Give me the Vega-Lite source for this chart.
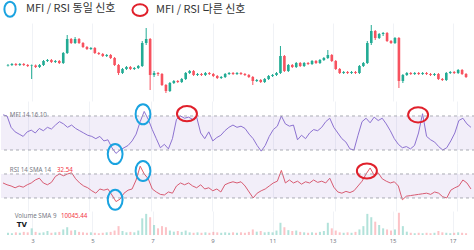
{
"$schema":"https://vega.github.io/schema/vega-lite/v6.json",
"padding":0,
"background":"white",
"spacing":0,
"bounds":"flush",
"config":{"view":{"stroke":null},"font":"Noto Sans","concat":{"spacing":0}},
"datasets":{
"k":[
{"i":0,"o":37.5,"c":38,"h":39,"l":36.5,"m":82,"r":55,"v":10},
{"i":1,"o":38,"c":39,"h":40,"l":37,"m":80,"r":52,"v":8},
{"i":2,"o":39,"c":38,"h":40,"l":37,"m":60,"r":50,"v":12},
{"i":3,"o":38,"c":39,"h":40,"l":37,"m":52,"r":47,"v":10},
{"i":4,"o":39,"c":38,"h":40,"l":37,"m":48,"r":50,"v":14},
{"i":5,"o":38,"c":37,"h":39,"l":36,"m":44,"r":48,"v":12},
{"i":6,"o":37,"c":37.5,"h":38.5,"l":24,"m":52,"r":52,"v":30},
{"i":7,"o":37.5,"c":36,"h":38.5,"l":35,"m":55,"r":55,"v":14},
{"i":8,"o":36,"c":38,"h":39,"l":35,"m":50,"r":60,"v":10},
{"i":9,"o":38,"c":42,"h":43,"l":37,"m":58,"r":63,"v":12},
{"i":10,"o":42,"c":43,"h":44,"l":41,"m":54,"r":55,"v":18},
{"i":11,"o":43,"c":41,"h":44,"l":40,"m":60,"r":52,"v":10},
{"i":12,"o":41,"c":42,"h":43,"l":40,"m":57,"r":56,"v":12},
{"i":13,"o":42,"c":40,"h":43,"l":39,"m":64,"r":66,"v":14},
{"i":14,"o":40,"c":50,"h":51,"l":39,"m":70,"r":70,"v":25},
{"i":15,"o":50,"c":64,"h":68,"l":49,"m":66,"r":67,"v":35},
{"i":16,"o":64,"c":60,"h":65,"l":59,"m":60,"r":70,"v":20},
{"i":17,"o":60,"c":64,"h":66,"l":59,"m":64,"r":72,"v":22},
{"i":18,"o":64,"c":60,"h":65,"l":59,"m":58,"r":62,"v":14},
{"i":19,"o":60,"c":56,"h":61,"l":55,"m":54,"r":55,"v":12},
{"i":20,"o":56,"c":54,"h":57,"l":53,"m":50,"r":50,"v":10},
{"i":21,"o":54,"c":55,"h":56,"l":53,"m":46,"r":47,"v":12},
{"i":22,"o":55,"c":50,"h":56,"l":49,"m":44,"r":42,"v":10},
{"i":23,"o":50,"c":49,"h":51,"l":48,"m":40,"r":38,"v":8},
{"i":24,"o":49,"c":47,"h":50,"l":46,"m":44,"r":45,"v":10},
{"i":25,"o":47,"c":48,"h":49,"l":46,"m":36,"r":43,"v":12},
{"i":26,"o":48,"c":45,"h":49,"l":44,"m":38,"r":45,"v":14},
{"i":27,"o":45,"c":38,"h":46,"l":37,"m":24,"r":35,"v":20},
{"i":28,"o":38,"c":30,"h":39,"l":28,"m":14,"r":24,"v":40},
{"i":29,"o":30,"c":34,"h":35,"l":29,"m":20,"r":28,"v":18},
{"i":30,"o":34,"c":36,"h":37,"l":33,"m":24,"r":38,"v":12},
{"i":31,"o":36,"c":34,"h":37,"l":33,"m":28,"r":43,"v":14},
{"i":32,"o":34,"c":35,"h":36,"l":33,"m":36,"r":45,"v":12},
{"i":33,"o":35,"c":37,"h":38,"l":34,"m":48,"r":60,"v":20},
{"i":34,"o":37,"c":60,"h":62,"l":36,"m":70,"r":83,"v":75},
{"i":35,"o":60,"c":64,"h":75,"l":58,"m":88,"r":70,"v":95},
{"i":36,"o":64,"c":28,"h":65,"l":13,"m":74,"r":62,"v":80},
{"i":37,"o":28,"c":30,"h":32,"l":26,"m":56,"r":45,"v":45},
{"i":38,"o":30,"c":29,"h":31,"l":27,"m":40,"r":40,"v":30},
{"i":39,"o":29,"c":18,"h":30,"l":17,"m":24,"r":36,"v":40},
{"i":40,"o":18,"c":12,"h":19,"l":10,"m":30,"r":35,"v":35},
{"i":41,"o":12,"c":20,"h":21,"l":11,"m":22,"r":40,"v":20},
{"i":42,"o":20,"c":22,"h":23,"l":19,"m":40,"r":38,"v":15},
{"i":43,"o":22,"c":21,"h":23,"l":20,"m":74,"r":50,"v":18},
{"i":44,"o":21,"c":24,"h":25,"l":20,"m":80,"r":55,"v":14},
{"i":45,"o":24,"c":30,"h":31,"l":23,"m":76,"r":52,"v":20},
{"i":46,"o":30,"c":32,"h":33,"l":29,"m":78,"r":55,"v":12},
{"i":47,"o":32,"c":28,"h":33,"l":27,"m":74,"r":50,"v":10},
{"i":48,"o":28,"c":29,"h":30,"l":27,"m":78,"r":47,"v":12},
{"i":49,"o":29,"c":28,"h":30,"l":27,"m":50,"r":52,"v":10},
{"i":50,"o":28,"c":30,"h":31,"l":27,"m":40,"r":45,"v":12},
{"i":51,"o":30,"c":29,"h":31,"l":28,"m":52,"r":47,"v":10},
{"i":52,"o":29,"c":27,"h":30,"l":26,"m":36,"r":42,"v":14},
{"i":53,"o":27,"c":25,"h":28,"l":24,"m":42,"r":45,"v":12},
{"i":54,"o":25,"c":26,"h":27,"l":24,"m":46,"r":40,"v":10},
{"i":55,"o":26,"c":29,"h":30,"l":25,"m":54,"r":52,"v":12},
{"i":56,"o":29,"c":30,"h":31,"l":28,"m":60,"r":55,"v":10},
{"i":57,"o":30,"c":29,"h":31,"l":28,"m":64,"r":57,"v":12},
{"i":58,"o":29,"c":30,"h":31,"l":28,"m":60,"r":55,"v":10},
{"i":59,"o":30,"c":29,"h":31,"l":28,"m":62,"r":57,"v":12},
{"i":60,"o":29,"c":28,"h":30,"l":27,"m":58,"r":50,"v":10},
{"i":61,"o":28,"c":26,"h":29,"l":25,"m":48,"r":40,"v":14},
{"i":62,"o":26,"c":22,"h":27,"l":18,"m":40,"r":30,"v":25},
{"i":63,"o":22,"c":23,"h":24,"l":21,"m":28,"r":38,"v":15},
{"i":64,"o":23,"c":21,"h":24,"l":20,"m":18,"r":42,"v":18},
{"i":65,"o":21,"c":24,"h":25,"l":20,"m":28,"r":45,"v":12},
{"i":66,"o":24,"c":27,"h":28,"l":23,"m":44,"r":50,"v":14},
{"i":67,"o":27,"c":28,"h":29,"l":26,"m":56,"r":55,"v":12},
{"i":68,"o":28,"c":30,"h":31,"l":27,"m":62,"r":58,"v":20},
{"i":69,"o":30,"c":47,"h":57,"l":29,"m":80,"r":76,"v":55},
{"i":70,"o":47,"c":32,"h":48,"l":31,"m":66,"r":55,"v":35},
{"i":71,"o":32,"c":38,"h":39,"l":31,"m":62,"r":60,"v":22},
{"i":72,"o":38,"c":36,"h":39,"l":35,"m":64,"r":55,"v":18},
{"i":73,"o":36,"c":40,"h":41,"l":35,"m":38,"r":58,"v":20},
{"i":74,"o":40,"c":37,"h":41,"l":36,"m":46,"r":53,"v":14},
{"i":75,"o":37,"c":40,"h":41,"l":36,"m":40,"r":57,"v":12},
{"i":76,"o":40,"c":39,"h":41,"l":38,"m":50,"r":55,"v":10},
{"i":77,"o":39,"c":42,"h":43,"l":38,"m":56,"r":60,"v":12},
{"i":78,"o":42,"c":40,"h":43,"l":39,"m":54,"r":56,"v":10},
{"i":79,"o":40,"c":43,"h":44,"l":39,"m":60,"r":58,"v":14},
{"i":80,"o":43,"c":45,"h":46,"l":42,"m":70,"r":55,"v":18},
{"i":81,"o":45,"c":48,"h":53,"l":44,"m":76,"r":63,"v":55},
{"i":82,"o":48,"c":42,"h":49,"l":41,"m":60,"r":48,"v":30},
{"i":83,"o":42,"c":34,"h":43,"l":33,"m":50,"r":40,"v":20},
{"i":84,"o":34,"c":30,"h":35,"l":29,"m":40,"r":38,"v":12},
{"i":85,"o":30,"c":31,"h":32,"l":29,"m":34,"r":41,"v":10},
{"i":86,"o":31,"c":30,"h":32,"l":29,"m":22,"r":39,"v":12},
{"i":87,"o":30,"c":31,"h":32,"l":29,"m":20,"r":42,"v":10},
{"i":88,"o":31,"c":30,"h":32,"l":29,"m":46,"r":50,"v":14},
{"i":89,"o":30,"c":37,"h":38,"l":29,"m":70,"r":58,"v":25},
{"i":90,"o":37,"c":40,"h":41,"l":36,"m":76,"r":70,"v":40},
{"i":91,"o":40,"c":60,"h":62,"l":39,"m":68,"r":80,"v":95},
{"i":92,"o":60,"c":72,"h":78,"l":58,"m":78,"r":68,"v":80},
{"i":93,"o":72,"c":65,"h":73,"l":63,"m":72,"r":72,"v":60},
{"i":94,"o":65,"c":69,"h":70,"l":64,"m":76,"r":62,"v":45},
{"i":95,"o":69,"c":70,"h":71,"l":67,"m":66,"r":58,"v":30},
{"i":96,"o":70,"c":62,"h":71,"l":61,"m":54,"r":55,"v":25},
{"i":97,"o":62,"c":60,"h":63,"l":59,"m":40,"r":57,"v":20},
{"i":98,"o":60,"c":65,"h":66,"l":59,"m":30,"r":50,"v":25},
{"i":99,"o":65,"c":22,"h":66,"l":15,"m":24,"r":27,"v":100},
{"i":100,"o":22,"c":28,"h":29,"l":20,"m":26,"r":33,"v":40},
{"i":101,"o":28,"c":30,"h":31,"l":27,"m":22,"r":34,"v":15},
{"i":102,"o":30,"c":29,"h":31,"l":28,"m":28,"r":35,"v":10},
{"i":103,"o":29,"c":30,"h":31,"l":28,"m":50,"r":36,"v":8},
{"i":104,"o":30,"c":29,"h":31,"l":28,"m":84,"r":37,"v":10},
{"i":105,"o":29,"c":30,"h":31,"l":28,"m":44,"r":38,"v":8},
{"i":106,"o":30,"c":29,"h":31,"l":28,"m":38,"r":36,"v":10},
{"i":107,"o":29,"c":28,"h":30,"l":27,"m":34,"r":40,"v":8},
{"i":108,"o":28,"c":29,"h":30,"l":27,"m":26,"r":38,"v":10},
{"i":109,"o":29,"c":24,"h":30,"l":23,"m":20,"r":32,"v":18},
{"i":110,"o":24,"c":23,"h":25,"l":22,"m":24,"r":30,"v":12},
{"i":111,"o":23,"c":30,"h":31,"l":22,"m":36,"r":43,"v":10},
{"i":112,"o":30,"c":31,"h":32,"l":29,"m":50,"r":47,"v":8},
{"i":113,"o":31,"c":30,"h":32,"l":29,"m":72,"r":50,"v":10},
{"i":114,"o":30,"c":33,"h":34,"l":29,"m":76,"r":60,"v":12},
{"i":115,"o":33,"c":29,"h":34,"l":28,"m":66,"r":55,"v":10},
{"i":116,"o":29,"c":26,"h":30,"l":25,"m":60,"r":45,"v":8}
],
"am":[
{"i":27.8,"y":13,"t":"MFI / RSI 동일 신호"},
{"i":34.7,"y":83,"t":"MFI / RSI 동일 신호"},
{"i":45.6,"y":84,"t":"MFI / RSI 다른 신호"},
{"i":102.9,"y":82,"t":"MFI / RSI 다른 신호"}
],
"ar":[
{"i":34.7,"y":75,"t":"MFI / RSI 동일 신호"},
{"i":27.8,"y":27,"t":"MFI / RSI 동일 신호"},
{"i":90.2,"y":75,"t":"MFI / RSI 다른 신호"}
]
},
"vconcat":[
{
"width":474,"height":78,
"data":{"name":"k"},
"layer":[
{"mark":{"type":"rule","strokeWidth":1},
"encoding":{"x":{"field":"i","type":"quantitative","scale":{"domain":[-0.5,117],"nice":false,"zero":false},"axis":{"labels":false,"ticks":false,"domain":false,"title":null,"grid":true,"gridColor":"#f0f2f6","values":[6.2,21.4,36.6,51.8,67,82.2,97.4,112.6]}},
"y":{"field":"l","type":"quantitative","scale":{"domain":[2,80],"nice":false,"zero":false},"axis":null},"y2":{"field":"h"},
"color":{"condition":{"test":"datum.o < datum.c","value":"#22ab94"},"value":"#f7525f"}}},
{"mark":{"type":"bar","width":2.6},
"encoding":{"x":{"field":"i","type":"quantitative"},"y":{"field":"o","type":"quantitative","axis":null},"y2":{"field":"c"},
"color":{"condition":{"test":"datum.o < datum.c","value":"#22ab94"},"value":"#f7525f"}}}
]
},
{
"width":474,"height":62,
"layer":[
{"data":{"name":"k"},"mark":{"type":"line","color":"#8f76d3","strokeWidth":1,"clip":true},
"encoding":{"x":{"field":"i","type":"quantitative","scale":{"domain":[-0.5,117],"nice":false,"zero":false},"axis":{"labels":false,"ticks":false,"domain":false,"title":null,"grid":true,"gridColor":"#f0f2f6","values":[6.2,21.4,36.6,51.8,67,82.2,97.4,112.6]}},
"y":{"field":"m","type":"quantitative","scale":{"domain":[-2.9,106.4],"nice":false,"zero":false},"axis":null}}},
{"data":{"values":[{}]},"mark":{"type":"rect","color":"#7e57c2","opacity":0.1},
"encoding":{"y":{"datum":80,"type":"quantitative"},"y2":{"datum":20}}},
{"data":{"values":[{"y":80},{"y":20}]},"mark":{"type":"rule","color":"#9598a1","strokeDash":[3,3],"strokeWidth":0.8},
"encoding":{"y":{"field":"y","type":"quantitative"}}},
{"data":{"values":[{}]},"mark":{"type":"text","text":"MFI 14  16.10","align":"left","baseline":"middle","fontSize":6.2,"fill":"#787b86"},
"encoding":{"x":{"datum":1.7,"type":"quantitative"},"y":{"datum":82,"type":"quantitative"}}},
{"data":{"name":"am"},"mark":{"type":"point","filled":false,"strokeWidth":2,"opacity":1},
"encoding":{"x":{"field":"i","type":"quantitative"},"y":{"field":"y","type":"quantitative"},
"color":{"field":"t","type":"nominal","scale":{"domain":["MFI / RSI 동일 신호","MFI / RSI 다른 신호"],"range":["#1aa3e0","#e0202b"]},
"legend":{"title":null,"orient":"top","direction":"horizontal","offset":2,"padding":0,"symbolType":"circle","symbolSize":230,"symbolStrokeWidth":2,"labelFont":"Noto Sans CJK KR","labelFontSize":11,"labelColor":"#333333","labelOffset":7,"columnPadding":12,"labelLimit":300}},
"shape":{"field":"t","type":"nominal","scale":{"domain":["MFI / RSI 동일 신호","MFI / RSI 다른 신호"],"range":["M-0.74,0A0.74,1,0,1,0,0.74,0A0.74,1,0,1,0,-0.74,0Z","M-1,0A1,0.76,0,1,0,1,0A1,0.76,0,1,0,-1,0Z"]},"legend":null},
"size":{"value":400}}}
]
},
{
"width":474,"height":48,
"layer":[
{"data":{"name":"k"},"mark":{"type":"line","color":"#e35d6a","strokeWidth":1,"clip":true},
"encoding":{"x":{"field":"i","type":"quantitative","scale":{"domain":[-0.5,117],"nice":false,"zero":false},"axis":{"labels":false,"ticks":false,"domain":false,"title":null,"grid":true,"gridColor":"#f0f2f6","values":[6.2,21.4,36.6,51.8,67,82.2,97.4,112.6]}},
"y":{"field":"r","type":"quantitative","scale":{"domain":[8.3,88.3],"nice":false,"zero":false},"axis":null}}},
{"data":{"values":[{}]},"mark":{"type":"rect","color":"#7e57c2","opacity":0.1},
"encoding":{"y":{"datum":70,"type":"quantitative"},"y2":{"datum":30}}},
{"data":{"values":[{"y":70},{"y":30}]},"mark":{"type":"rule","color":"#9598a1","strokeDash":[3,3],"strokeWidth":0.8},
"encoding":{"y":{"field":"y","type":"quantitative"}}},
{"data":{"values":[{}]},"mark":{"type":"text","text":"RSI 14 SMA 14","align":"left","baseline":"middle","fontSize":6.2,"fill":"#787b86"},
"encoding":{"x":{"datum":1.7,"type":"quantitative"},"y":{"datum":76.7,"type":"quantitative"}}},
{"data":{"values":[{}]},"mark":{"type":"text","text":"32.54","align":"left","baseline":"middle","fontSize":6.2,"fill":"#f23645"},
"encoding":{"x":{"datum":13.4,"type":"quantitative"},"y":{"datum":76.7,"type":"quantitative"}}},
{"data":{"name":"ar"},"mark":{"type":"point","filled":false,"strokeWidth":2,"opacity":1},
"encoding":{"x":{"field":"i","type":"quantitative"},"y":{"field":"y","type":"quantitative"},
"color":{"field":"t","type":"nominal","scale":{"domain":["MFI / RSI 동일 신호","MFI / RSI 다른 신호"],"range":["#1aa3e0","#e0202b"]},
"legend":{"title":null,"orient":"top","direction":"horizontal","offset":2,"padding":0,"symbolType":"circle","symbolSize":230,"symbolStrokeWidth":2,"labelFont":"Noto Sans CJK KR","labelFontSize":11,"labelColor":"#333333","labelOffset":7,"columnPadding":12,"labelLimit":300}},
"shape":{"field":"t","type":"nominal","scale":{"domain":["MFI / RSI 동일 신호","MFI / RSI 다른 신호"],"range":["M-0.74,0A0.74,1,0,1,0,0.74,0A0.74,1,0,1,0,-0.74,0Z","M-1,0A1,0.76,0,1,0,1,0A1,0.76,0,1,0,-1,0Z"]},"legend":null},
"size":{"value":400}}}
]
},
{
"width":474,"height":24,
"layer":[
{"data":{"name":"k"},"mark":{"type":"bar","width":2,"opacity":0.35},
"encoding":{"x":{"field":"i","type":"quantitative","scale":{"domain":[-0.5,117],"nice":false,"zero":false},"axis":{"labelExpr":"format(3 + 2*round((datum.value-6.2)/15.2), 'd')","ticks":false,"domain":false,"title":null,"grid":true,"gridColor":"#f0f2f6","values":[6.2,21.4,36.6,51.8,67,82.2,97.4,112.6],"labelFontSize":6,"labelColor":"#787b86","labelPadding":2}},
"y":{"field":"v","type":"quantitative","scale":{"domain":[0,108],"nice":false,"zero":true},"axis":null},
"color":{"condition":{"test":"datum.o < datum.c","value":"#22ab94"},"value":"#f7525f"}}},
{"data":{"values":[{}]},"mark":{"type":"text","text":"Volume SMA 9","align":"left","baseline":"middle","fontSize":6.2,"fill":"#787b86"},
"encoding":{"x":{"datum":1.7,"type":"quantitative"},"y":{"datum":85,"type":"quantitative"}}},
{"data":{"values":[{}]},"mark":{"type":"text","text":"10045.44","align":"left","baseline":"middle","fontSize":6.2,"fill":"#f23645"},
"encoding":{"x":{"datum":13.4,"type":"quantitative"},"y":{"datum":85,"type":"quantitative"}}},
{"data":{"values":[{}]},"mark":{"type":"text","text":"TV","align":"center","baseline":"middle","fontSize":7,"fontWeight":"bold","font":"DejaVu Sans","fill":"#131722"},
"encoding":{"x":{"datum":3.5,"type":"quantitative"},"y":{"datum":45,"type":"quantitative"}}}
]
}
]
}
